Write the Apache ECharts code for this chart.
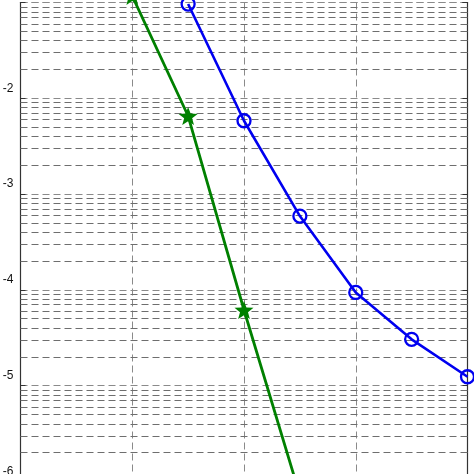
<!DOCTYPE html>
<html>
<head>
<meta charset="utf-8">
<script src="https://cdn.jsdelivr.net/npm/echarts@6/dist/echarts.min.js"></script>
<style>
  html, body { margin: 0; padding: 0; background: #fff; }
  #container { width: 474px; height: 474px; }
</style>
</head>
<body>
<div id="container"></div>
<script>
// x positions (axis units) and values
var blueX = [1.5, 2, 2.5, 3, 3.5, 4];
var blueY = [0.0964, 5.83e-3, 5.9e-4, 9.4e-5, 3.05e-5, 1.24e-5];
var greenX = [1, 1.5, 2, 2.5];
var greenY = [0.117, 6.53e-3, 6.17e-5, 7.2e-7];

// log axis gridlines: decades and the 2..9 minor lines inside each
var decades = [-6, -5, -4, -3, -2];
var mantissas = [2, 3, 4, 5, 6, 7, 8, 9];

var dom = document.getElementById("container");
var myChart = echarts.init(dom);

function pairs(xs, ys) {
  return xs.map(function (x, i) { return [x, ys[i]]; });
}

// pentagram marker
function starPath() {
  var p = [];
  for (var i = 0; i < 10; i++) {
    var r = (i % 2) ? 21 : 50;
    var a = (-90 + i * 36) * Math.PI / 180;
    p.push((50 + r * Math.cos(a)).toFixed(2) + ' ' + (50 + r * Math.sin(a)).toFixed(2));
  }
  return 'path://M' + p.join(' L') + ' Z';
}

var minorLines = [];
decades.forEach(function (e) {
  mantissas.forEach(function (m) {
    var v = m * Math.pow(10, e);
    minorLines.push({ coords: [[0, v], [4, v]] });
  });
});

var grid_dash = { color: '#8a8a8a', width: 1, type: [7, 4] };

var option = {
  animation: false,
  grid: { left: 20.5, top: 2.5, width: 447, height: 479, outerBoundsMode: 'none', containLabel: false },
  xAxis: {
    type: 'value',
    min: 0, max: 4, interval: 1,
    axisLine: { show: false },
    axisTick: { show: false },
    axisLabel: { show: false },
    splitLine: { show: true, lineStyle: grid_dash }
  },
  yAxis: [
    {
      type: 'log',
      logBase: 10,
      min: 1e-6, max: 1e-1,
      splitNumber: 5,
      axisLine: { show: true, onZero: false, lineStyle: { color: '#333', width: 1.2 } },
      axisTick: { show: true, inside: true, length: 5, lineStyle: { color: '#333' } },
      axisLabel: {
        showMaxLabel: false,
        margin: 7,
        color: '#111',
        fontFamily: 'Liberation Sans',
        fontSize: 12,
        verticalAlign: 'bottom',
        lineHeight: 20,
        formatter: function (v) {
          var e = Math.round(Math.log10(v));
          return e === -1 ? '' : String(e);
        }
      },
      splitLine: { show: true, lineStyle: grid_dash }
    },
    {
      type: 'log',
      logBase: 10,
      min: 1e-6, max: 1e-1,
      position: 'right',
      splitNumber: 5,
      axisLine: { show: true, onZero: false, lineStyle: { color: '#333', width: 1.2 } },
      axisTick: { show: true, inside: true, length: 5, lineStyle: { color: '#333' } },
      axisLabel: { show: false },
      splitLine: { show: false }
    }
  ],
  series: [
    {
      name: 'minor grid',
      type: 'lines',
      coordinateSystem: 'cartesian2d',
      polyline: false,
      silent: true,
      z: 1,
      lineStyle: { color: '#6e6e6e', width: 1, type: [7, 4], opacity: 1 },
      data: minorLines
    },
    {
      name: 'green',
      type: 'line',
      data: pairs(greenX, greenY),
      clip: false,
      symbol: starPath(),
      symbolKeepAspect: true,
      symbolSize: 19,
      lineStyle: { color: '#008000', width: 2.8 },
      itemStyle: { color: '#008000', borderWidth: 0 },
      z: 3
    },
    {
      name: 'blue',
      type: 'line',
      data: pairs(blueX, blueY),
      clip: false,
      symbol: 'circle',
      symbolSize: 13,
      lineStyle: { color: '#0000f0', width: 2.6 },
      itemStyle: { color: 'rgba(255,255,255,0)', borderColor: '#0000f0', borderWidth: 2.3 },
      z: 4
    }
  ]
};

myChart.setOption(option, true);
</script>
</body>
</html>
